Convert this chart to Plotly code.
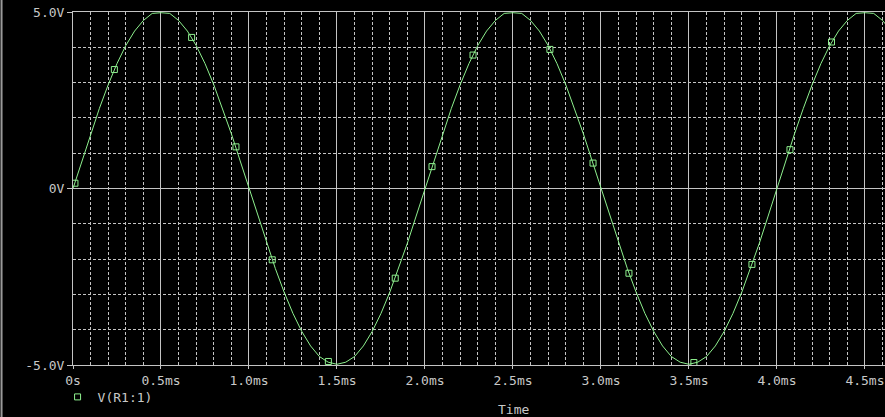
#!/usr/bin/env python3
"""Transient plot of V(R1:1) — PSpice style probe window."""

import plotly.graph_objects as go

# ── Data ──────────────────────────────────────────────────────────────────

# simulation time points (ms) and node voltage (V)
TIME_MS = [
    0.00, 0.05, 0.10, 0.15, 0.20, 0.25, 0.30, 0.35, 0.40, 0.45,
    0.50, 0.55, 0.60, 0.65, 0.70, 0.75, 0.80, 0.85, 0.90, 0.95,
    1.00, 1.05, 1.10, 1.15, 1.20, 1.25, 1.30, 1.35, 1.40, 1.45,
    1.50, 1.55, 1.60, 1.65, 1.70, 1.75, 1.80, 1.85, 1.90, 1.95,
    2.00, 2.05, 2.10, 2.15, 2.20, 2.25, 2.30, 2.35, 2.40, 2.45,
    2.50, 2.55, 2.60, 2.65, 2.70, 2.75, 2.80, 2.85, 2.90, 2.95,
    3.00, 3.05, 3.10, 3.15, 3.20, 3.25, 3.30, 3.35, 3.40, 3.45,
    3.50, 3.55, 3.60, 3.65, 3.70, 3.75, 3.80, 3.85, 3.90, 3.95,
    4.00, 4.05, 4.10, 4.15, 4.20, 4.25, 4.30, 4.35, 4.40, 4.45,
    4.50, 4.55, 4.60, 4.65,
]
V_R1 = [
    0.00, 0.78, 1.55, 2.27, 2.94, 3.54, 4.05, 4.46, 4.76, 4.96,
    4.98, 4.96, 4.76, 4.46, 4.05, 3.54, 2.94, 2.27, 1.55, 0.78,
    0.00, -0.78, -1.55, -2.27, -2.94, -3.54, -4.05, -4.46, -4.76, -4.92,
    -4.98, -4.92, -4.76, -4.46, -4.05, -3.54, -2.94, -2.27, -1.55, -0.78,
    0.00, 0.78, 1.55, 2.27, 2.94, 3.54, 4.05, 4.46, 4.76, 4.96,
    4.98, 4.96, 4.76, 4.46, 4.05, 3.54, 2.94, 2.27, 1.55, 0.78,
    0.00, -0.78, -1.55, -2.27, -2.94, -3.54, -4.05, -4.46, -4.76, -4.92,
    -4.98, -4.92, -4.76, -4.46, -4.05, -3.54, -2.94, -2.27, -1.55, -0.78,
    0.00, 0.78, 1.55, 2.27, 2.94, 3.54, 4.05, 4.46, 4.76, 4.96,
    4.98, 4.96, 4.76, 4.46,
]

# probe symbol positions along the trace
MARK_MS = [0.011, 0.235, 0.674, 0.926, 1.132, 1.451, 1.831, 2.04,
           2.273, 2.71, 2.955, 3.159, 3.528, 3.858, 4.074, 4.31]
MARK_V = [0.15, 3.37, 4.28, 1.18, -2.02, -4.90, -2.54, 0.62,
          3.78, 3.94, 0.72, -2.40, -4.93, -2.15, 1.10, 4.15]

X_TICKS = [0, 0.5, 1.0, 1.5, 2.0, 2.5, 3.0, 3.5, 4.0, 4.5]
X_LABELS = ["0s", "0.5ms", "1.0ms", "1.5ms", "2.0ms", "2.5ms",
            "3.0ms", "3.5ms", "4.0ms", "4.5ms"]
Y_TICKS = [-5, 0, 5]
Y_LABELS = ["-5.0V", "0V", "5.0V"]

TRACE_NAME = "V(R1:1)"

# ── Style ─────────────────────────────────────────────────────────────────

GREEN = "#8ef08e"
GRID = "#c4c4c4"
TEXT = "#c8c8c8"
FONT = "DejaVu Sans Mono"


def build_figure() -> go.Figure:
    fig = go.Figure()

    fig.add_trace(go.Scatter(
        x=TIME_MS, y=V_R1, mode="lines",
        line=dict(color=GREEN, width=1),
        showlegend=False, hoverinfo="skip",
    ))
    fig.add_trace(go.Scatter(
        x=MARK_MS, y=MARK_V, mode="markers",
        marker=dict(symbol="square-open", size=6, color=GREEN,
                    line=dict(width=1, color=GREEN)),
        name=TRACE_NAME,
    ))

    grid_common = dict(
        showline=True, linecolor=GRID, linewidth=1,
        ticks="outside", tickcolor=GRID, tickwidth=1,
        gridcolor=GRID, gridwidth=1, automargin=False,
        tickfont=dict(family=FONT, size=13, color=TEXT),
    )

    fig.update_xaxes(
        range=[0, 4.614],
        tickvals=X_TICKS, ticktext=X_LABELS,
        ticklen=3, mirror=True, zeroline=False,
        minor=dict(dtick=0.1, tick0=0, showgrid=True, gridcolor=GRID,
                   griddash="3px,2px", gridwidth=1, ticks=""),
        **grid_common,
    )
    fig.update_yaxes(
        range=[-5, 5],
        tickvals=Y_TICKS, ticktext=Y_LABELS,
        ticklen=5, zeroline=True, zerolinecolor=GRID, zerolinewidth=1,
        minor=dict(dtick=1, tick0=0, showgrid=True, gridcolor=GRID,
                   griddash="3px,2px", gridwidth=1, ticks=""),
        **grid_common,
    )

    # "Time" axis caption sits right of the plot centre in the original window
    fig.add_annotation(
        text="Time", xref="paper", yref="paper",
        x=0.542, y=-0.153, showarrow=False,
        font=dict(family=FONT, size=13, color=TEXT),
    )
    # window frame at the left edge
    fig.add_shape(
        type="line", xref="paper", yref="paper",
        x0=-0.088, x1=-0.088, y0=-0.16, y1=1.05,
        line=dict(color="#9a9a9a", width=2),
    )

    fig.update_layout(
        width=885, height=417,
        margin=dict(l=73, r=0, t=12, b=52, autoexpand=False),
        paper_bgcolor="black", plot_bgcolor="black",
        font=dict(family=FONT, size=13, color=TEXT),
        showlegend=True,
        legend=dict(
            x=-0.019, y=-0.048, xanchor="left", yanchor="top",
            bgcolor="rgba(0,0,0,0)", font=dict(family=FONT, size=13, color=TEXT),
            itemwidth=30,
        ),
    )
    return fig


def main():
    fig = build_figure()
    # drop the default page margin so the figure fills the window
    fig.write_html(
        "out.html",
        config={"displayModeBar": False},
        post_script="document.body.style.margin='0';"
                    "document.body.style.background='black';",
    )


if __name__ == "__main__":
    main()
